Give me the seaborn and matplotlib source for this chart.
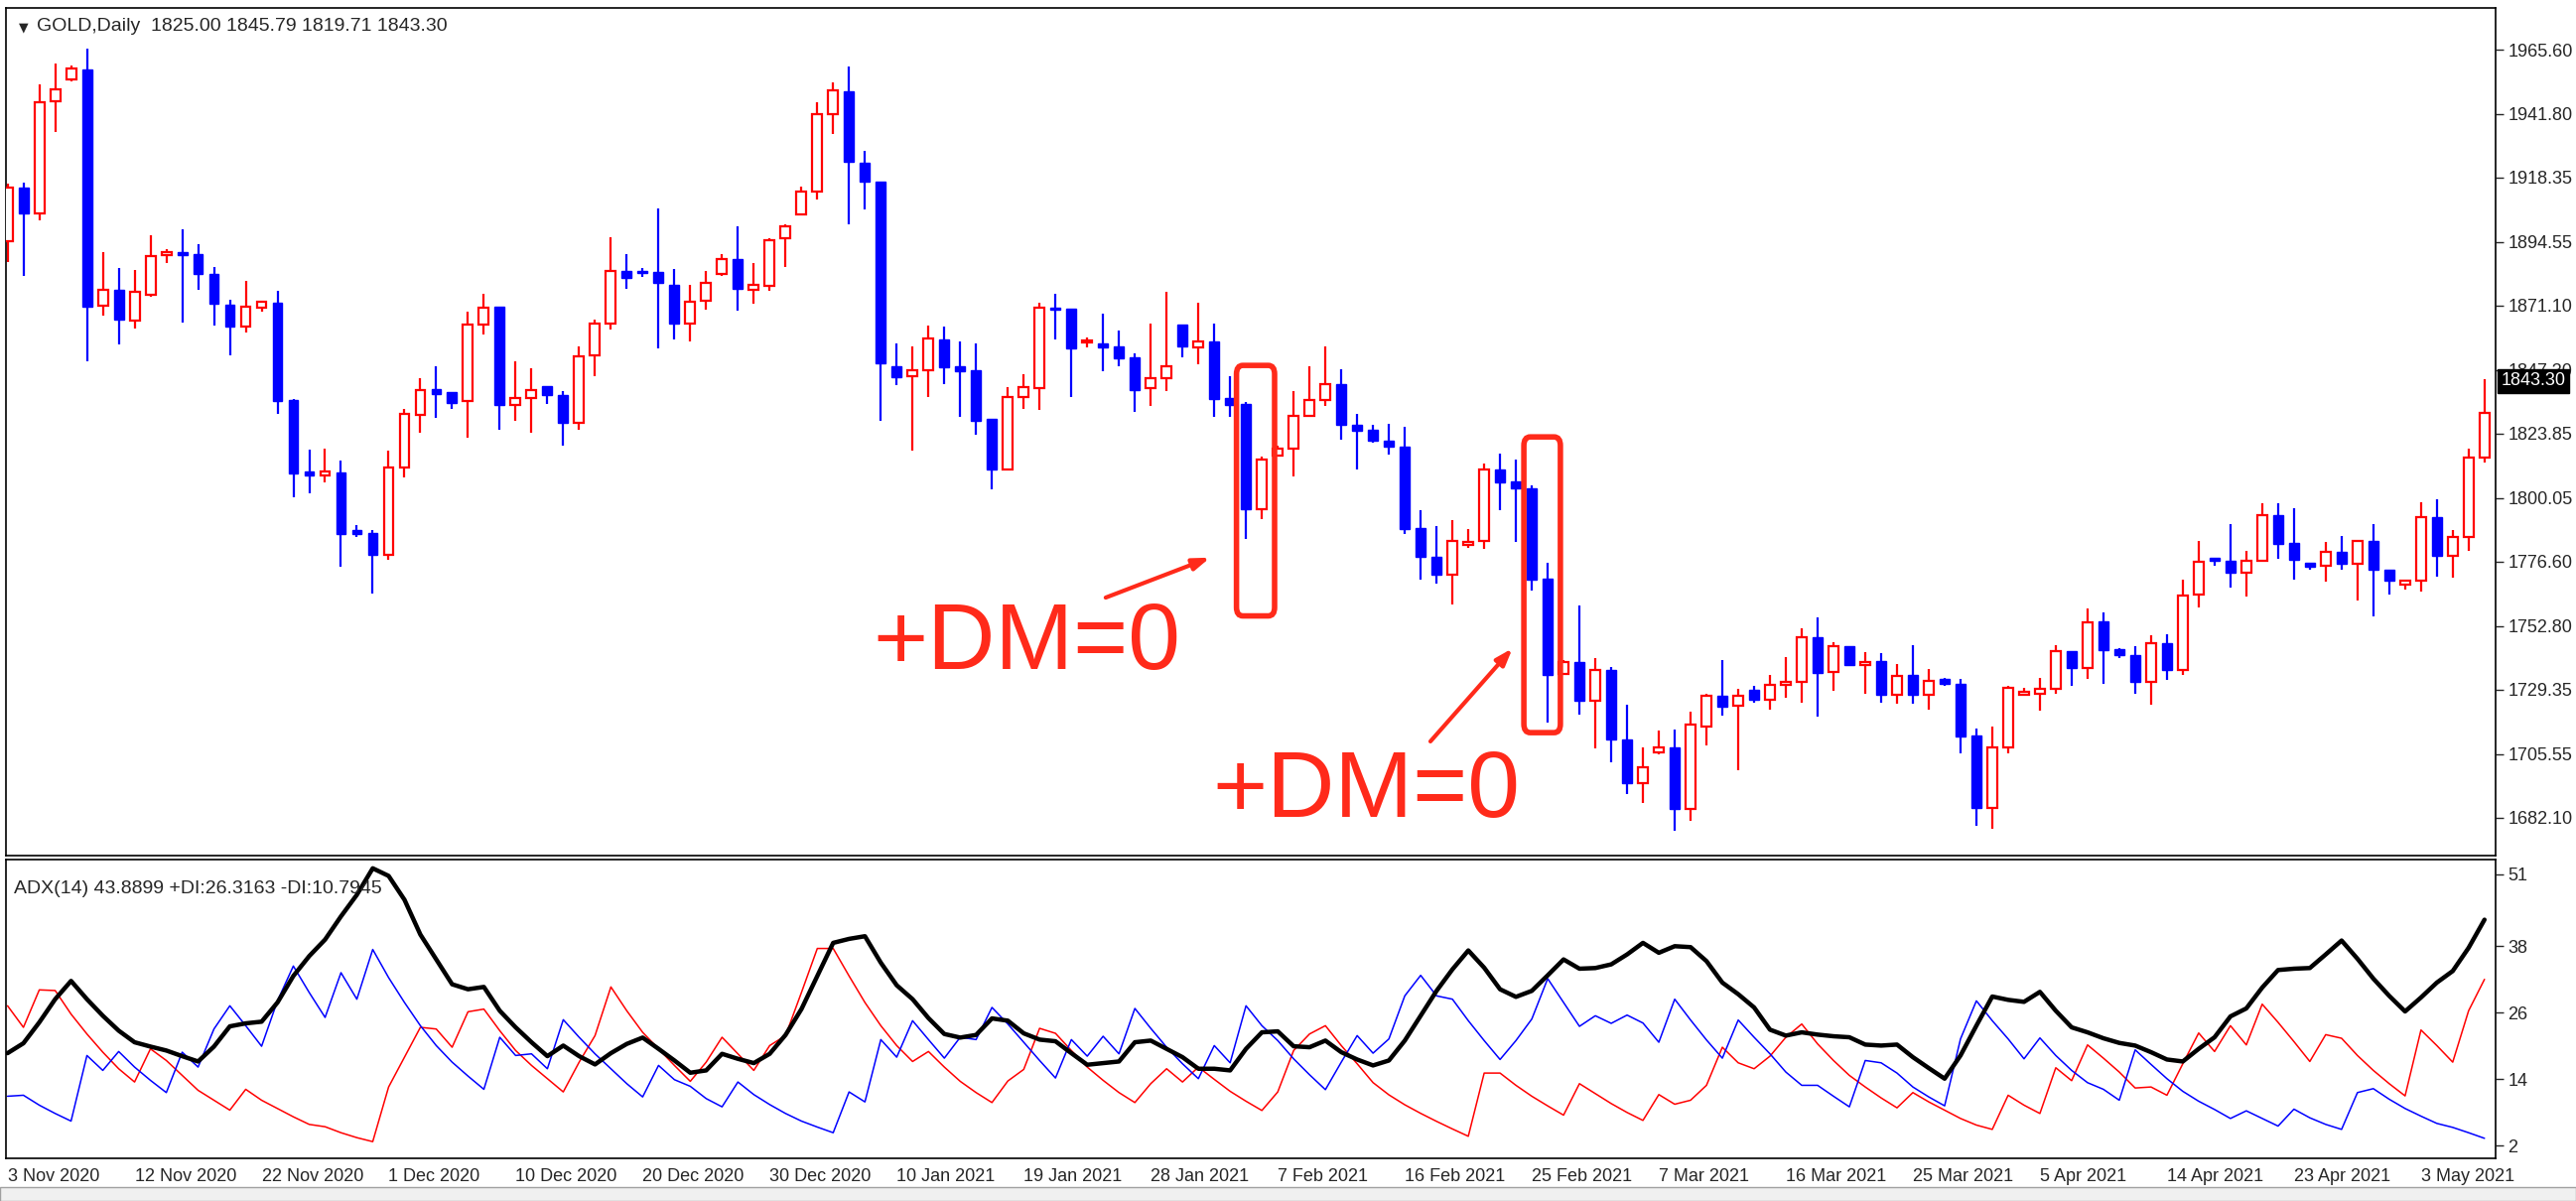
import matplotlib
matplotlib.use("Agg")
import matplotlib.pyplot as plt
from matplotlib.patches import FancyBboxPatch
import seaborn as sns
import numpy as np
import pandas as pd

sns.set_style("white")
plt.rcParams['font.family'] = ['Liberation Sans', 'DejaVu Sans']

opens = [1895.0,1914.8,1905.1,1946.4,1954.5,1958.3,1871.2,1876.9,1865.4,1875.2,1889.8,1891.0,1890.0,1882.7,1871.4,1863.5,1870.4,1872.2,1836.1,1809.7,
 1808.3,1809.3,1788.1,1787.1,1779.1,1811.3,1830.9,1840.2,1839.1,1835.7,1863.9,1870.6,1834.5,1837.1,1841.2,1838.1,1827.7,1852.7,1864.3,1883.9,
 1883.7,1883.5,1878.9,1864.4,1872.8,1882.9,1888.3,1876.9,1878.5,1895.8,1904.7,1913.1,1941.8,1950.2,1924.0,1916.8,1848.8,1845.2,1847.2,1858.7,
 1848.6,1847.4,1829.3,1810.5,1837.5,1840.8,1870.2,1870.0,1857.5,1857.3,1855.9,1851.9,1840.6,1844.2,1864.1,1855.7,1857.7,1836.9,1834.7,1796.0,
 1815.8,1818.2,1830.5,1836.3,1842.2,1827.1,1825.2,1821.2,1819.0,1789.0,1778.3,1771.6,1782.7,1784.1,1810.7,1806.1,1803.5,1770.4,1735.1,1739.3,
 1725.1,1736.5,1710.7,1694.8,1706.1,1707.9,1685.1,1715.8,1726.9,1723.2,1729.3,1725.6,1731.1,1732.1,1748.8,1735.7,1745.4,1738.3,1740.0,1727.5,
 1734.7,1727.5,1733.3,1731.5,1712.4,1685.5,1708.1,1727.5,1727.7,1729.5,1743.4,1737.1,1754.5,1744.2,1742.0,1732.1,1746.6,1736.7,1764.4,1778.1,
 1776.7,1772.4,1776.7,1793.6,1783.5,1776.1,1775.0,1780.1,1775.6,1784.1,1773.4,1768.2,1769.4,1792.8,1778.7,1785.5,1815.0]
highs = [1916.2,1916.6,1952.9,1960.5,1959.9,1966.0,1890.8,1884.9,1884.1,1897.0,1891.8,1899.4,1893.6,1885.3,1873.2,1880.1,1872.4,1876.5,1836.5,1818.0,
 1818.4,1814.0,1790.1,1788.1,1817.4,1832.9,1844.2,1848.6,1839.1,1868.8,1875.4,1870.6,1850.6,1847.8,1841.2,1839.4,1855.9,1866.0,1896.4,1890.0,
 1884.9,1907.1,1884.5,1878.7,1883.7,1890.0,1900.4,1886.7,1895.8,1901.0,1915.2,1946.0,1953.5,1959.3,1928.1,1916.8,1857.3,1855.9,1863.7,1863.3,
 1857.7,1857.3,1829.3,1841.0,1845.8,1872.2,1875.4,1870.0,1859.3,1868.2,1861.9,1853.3,1864.5,1876.0,1864.1,1872.2,1864.5,1845.2,1835.5,1815.4,
 1819.4,1839.4,1848.8,1855.9,1847.6,1831.1,1826.9,1827.5,1826.5,1795.4,1789.8,1791.8,1788.6,1812.7,1816.4,1814.4,1804.7,1776.3,1740.2,1760.3,
 1741.0,1737.7,1723.6,1707.9,1714.2,1714.4,1721.0,1727.7,1740.2,1729.7,1730.7,1734.7,1741.4,1751.9,1755.9,1746.8,1745.4,1743.3,1742.8,1738.9,
 1745.6,1737.0,1733.7,1733.1,1714.8,1715.6,1730.7,1729.9,1733.7,1745.6,1743.4,1759.3,1757.9,1744.6,1745.4,1749.4,1749.6,1770.0,1784.1,1778.1,
 1790.5,1780.7,1798.1,1798.1,1796.2,1776.1,1783.9,1786.1,1784.1,1790.5,1773.4,1769.6,1798.3,1799.6,1788.1,1818.1,1843.8]
lows = [1887.3,1881.9,1902.5,1935.3,1953.9,1850.6,1867.4,1856.7,1862.7,1874.2,1886.9,1864.8,1876.9,1863.7,1852.7,1861.1,1868.8,1831.1,1800.2,1801.7,
 1805.9,1774.6,1785.5,1764.8,1777.1,1807.7,1824.0,1829.5,1833.1,1822.4,1860.3,1825.4,1828.5,1824.0,1834.9,1819.4,1825.2,1845.0,1862.1,1877.3,
 1881.5,1855.3,1858.7,1857.7,1869.6,1881.9,1869.2,1871.8,1876.4,1885.3,1904.7,1910.1,1934.3,1901.0,1906.7,1828.5,1841.6,1817.4,1837.5,1842.2,
 1829.9,1823.4,1803.3,1810.5,1832.9,1832.5,1858.5,1837.5,1855.5,1847.0,1848.6,1831.7,1834.1,1839.4,1852.1,1849.4,1829.9,1829.9,1785.1,1792.2,
 1815.4,1807.9,1830.1,1833.9,1821.4,1810.5,1820.4,1816.0,1786.9,1769.8,1768.4,1760.9,1781.5,1781.1,1795.6,1783.7,1766.0,1717.2,1735.1,1720.2,
 1707.5,1702.3,1690.9,1687.4,1705.5,1677.1,1680.7,1708.5,1719.6,1699.4,1724.6,1722.0,1726.1,1724.6,1719.4,1728.7,1738.3,1727.7,1724.6,1724.0,
 1724.0,1722.0,1730.7,1705.9,1679.1,1677.9,1705.9,1727.1,1721.6,1727.7,1730.7,1733.1,1731.3,1740.8,1727.7,1723.6,1732.9,1734.7,1759.5,1775.0,
 1767.0,1763.5,1776.7,1777.5,1770.0,1773.6,1769.0,1773.6,1762.3,1756.5,1764.4,1766.4,1765.5,1771.0,1770.6,1780.7,1813.2]
closes = [1914.8,1905.1,1946.2,1951.0,1958.5,1870.8,1876.9,1865.8,1876.2,1889.5,1890.8,1889.8,1882.9,1871.6,1863.3,1870.8,1872.4,1835.7,1809.1,1808.3,
 1809.7,1786.9,1786.9,1779.1,1811.3,1831.1,1840.0,1838.5,1835.3,1863.9,1870.4,1834.5,1836.9,1839.8,1838.1,1827.7,1852.5,1864.5,1883.7,1881.3,
 1883.3,1879.3,1864.4,1872.6,1879.3,1888.3,1877.1,1878.9,1895.4,1900.4,1913.3,1941.8,1950.4,1924.2,1916.8,1849.8,1844.8,1847.2,1858.9,1848.4,
 1847.0,1828.5,1810.5,1837.5,1841.0,1870.2,1869.6,1855.3,1857.9,1855.5,1851.7,1840.0,1844.2,1848.8,1856.1,1857.7,1836.7,1834.5,1796.0,1814.2,
 1818.4,1830.5,1836.3,1842.2,1826.9,1824.8,1821.2,1819.0,1788.4,1778.3,1771.6,1784.1,1783.7,1810.5,1805.9,1803.5,1769.8,1734.7,1739.3,1725.3,
 1736.7,1710.7,1694.6,1700.8,1708.1,1685.1,1716.2,1727.1,1723.0,1727.1,1725.6,1731.1,1732.1,1748.8,1735.3,1745.2,1738.3,1739.3,1727.5,1734.5,
 1727.5,1732.5,1731.3,1712.1,1685.5,1707.9,1730.1,1728.3,1729.5,1743.4,1737.1,1754.3,1743.8,1742.0,1732.1,1746.6,1736.7,1764.2,1776.5,1776.7,
 1772.4,1776.7,1793.8,1783.1,1777.1,1774.8,1780.1,1775.6,1784.1,1773.4,1769.4,1769.6,1792.8,1778.7,1785.5,1815.0,1831.3]

adx = [18.67,20.46,24.23,28.41,31.70,28.41,25.42,22.73,20.64,19.86,19.15,18.13,17.17,19.86,23.51,24.05,24.35,27.81,32.60,36.18,
 39.17,43.35,47.24,52.02,50.65,46.34,40.07,35.58,31.10,30.20,30.62,26.32,23.33,20.64,18.13,20.04,18.13,16.64,18.67,20.34,
 21.48,19.45,17.35,15.14,15.56,18.55,17.65,16.88,18.55,21.96,26.62,32.60,38.57,39.29,39.77,34.99,30.92,28.41,25.00,22.13,
 21.48,21.96,24.94,24.53,22.25,21.12,20.82,18.67,16.58,16.88,17.17,20.64,20.94,19.45,17.95,15.86,15.86,15.56,19.45,22.43,
 22.61,19.92,19.74,20.94,18.85,17.53,16.46,17.35,20.94,25.42,29.91,33.79,37.20,34.09,30.20,28.83,29.91,32.71,35.58,33.91,
 34.03,34.69,36.48,38.57,36.78,37.97,37.80,35.28,31.40,29.31,26.92,22.91,21.84,22.43,22.02,21.72,21.54,20.22,20.04,20.22,
 17.95,15.98,14.07,18.25,23.63,28.89,28.29,27.93,29.73,26.32,23.33,22.43,21.36,20.52,20.04,18.85,17.53,17.17,19.45,21.54,
 25.30,26.74,30.50,33.67,33.91,34.03,36.48,38.99,35.70,32.12,29.01,26.20,28.71,31.40,33.49,37.67,42.75]
plus_di = [27.22,23.33,30.09,29.97,25.72,22.13,18.85,15.86,13.47,19.45,17.35,14.66,11.97,10.18,8.39,12.15,10.18,8.69,7.19,5.82,
 5.40,4.32,3.43,2.71,12.57,17.95,23.33,23.03,19.74,26.14,26.62,22.73,19.15,16.46,14.07,11.68,17.05,21.84,30.62,26.32,
 22.43,19.45,16.46,13.59,17.05,21.54,18.55,15.56,20.04,21.84,29.61,37.56,37.56,32.60,27.81,23.63,20.04,17.17,18.97,16.16,
 13.59,11.56,9.76,13.65,15.74,23.15,22.25,19.15,16.16,13.77,11.56,9.76,13.17,15.86,13.47,16.16,13.95,11.79,10.00,8.33,
 11.68,19.15,22.13,23.63,20.04,16.76,13.36,11.15,9.36,7.81,6.37,5.00,3.68,15.08,15.08,12.87,10.90,9.16,7.49,13.17,
 11.38,9.58,7.97,6.54,11.20,9.46,10.18,12.87,19.74,16.93,15.86,18.13,21.54,23.93,20.34,17.35,14.66,12.57,10.60,8.81,
 11.56,9.88,8.39,6.89,5.70,4.92,11.08,9.29,7.79,16.04,13.71,20.16,17.77,15.26,12.39,12.57,11.08,16.76,22.31,18.97,
 23.63,20.16,27.51,24.23,20.76,17.17,22.01,21.36,18.25,15.56,13.17,10.96,22.85,20.04,17.05,26.32,31.99]
minus_di = [10.90,11.08,9.29,7.79,6.42,18.25,15.56,18.97,16.16,13.77,11.56,18.85,16.16,23.03,27.22,23.63,19.92,28.11,34.39,29.61,
 25.12,33.19,28.41,37.38,32.30,27.81,23.63,20.04,17.05,14.54,12.15,21.54,18.25,18.55,15.86,24.71,21.54,18.55,15.86,13.17,
 10.78,16.46,13.89,12.69,10.48,8.99,13.47,11.20,9.40,7.79,6.42,5.34,4.32,11.68,9.88,21.12,17.95,24.53,21.12,17.77,
 21.54,21.12,26.92,23.93,20.64,17.35,14.19,21.12,18.13,21.72,18.55,26.74,23.15,19.74,16.76,14.07,20.04,16.93,27.22,23.63,
 20.94,17.65,14.78,12.09,17.05,21.84,18.67,21.24,29.01,32.71,29.01,28.41,24.53,20.94,17.53,20.94,24.83,32.12,27.81,23.51,
 25.42,24.05,25.54,24.11,20.64,28.41,24.65,21.06,17.77,24.65,21.54,18.55,15.26,12.87,12.87,10.90,8.99,17.35,16.93,15.08,
 12.57,10.78,9.17,21.24,28.11,24.53,21.24,17.65,21.42,18.25,15.56,13.35,12.15,10.18,19.27,16.64,14.07,11.79,10.00,8.51,
 6.89,8.27,6.89,5.52,8.57,7.01,5.82,4.92,11.56,12.27,10.36,8.69,7.31,6.00,5.28,4.32,3.31]

date_labels = ["3 Nov 2020","12 Nov 2020","22 Nov 2020","1 Dec 2020","10 Dec 2020","20 Dec 2020","30 Dec 2020",
 "10 Jan 2021","19 Jan 2021","28 Jan 2021","7 Feb 2021","16 Feb 2021","25 Feb 2021","7 Mar 2021","16 Mar 2021",
 "25 Mar 2021","5 Apr 2021","14 Apr 2021","23 Apr 2021","3 May 2021"]
date_label_idx = list(range(0, 160, 8))[:len(date_labels)]
price_ticks = [1965.60,1941.80,1918.35,1894.55,1871.10,1847.30,1823.85,1800.05,1776.60,1752.80,1729.35,1705.55,1682.10]
adx_ticks = [51,38,26,14,2]
last_price = 1843.30
title_main = "GOLD,Daily  1825.00 1845.79 1819.71 1843.30"
title_adx = "ADX(14) 43.8899 +DI:26.3163 -DI:10.7945"

n = len(opens)
idx = np.arange(n)
df = pd.DataFrame({"i": idx, "o": opens, "h": highs, "l": lows, "c": closes})
ind = pd.DataFrame({"i": idx, "ADX": adx, "+DI": plus_di, "-DI": minus_di})

W, H = 2595, 1210
fig = plt.figure(figsize=(W/100, H/100), dpi=100)
fig.patch.set_facecolor("white")
ax = fig.add_axes([6/W, 1-862/H, (2514-6)/W, (862-8)/H])
ax2 = fig.add_axes([6/W, 1-1167/H, (2514-6)/W, (1167-866)/H])

RED, BLUE = "#ff0000", "#0000ff"
bw = 0.62
for r in df.itertuples():
    up = r.c >= r.o
    col = RED if up else BLUE
    lo, hi = min(r.o, r.c), max(r.o, r.c)
    ax.vlines(r.i, r.l, lo, color=col, lw=1.6)
    ax.vlines(r.i, hi, r.h, color=col, lw=1.6)
    hgt = max(hi - lo, 0.6)
    if up:
        ax.bar(r.i, hgt, bottom=lo, width=bw, facecolor="white", edgecolor=col, linewidth=1.6, zorder=3)
    else:
        ax.bar(r.i, hgt, bottom=lo, width=bw, facecolor=col, edgecolor=col, linewidth=1.0, zorder=3)

xl = (-0.1, 156.7)
ax.set_xlim(*xl)
ax.set_ylim(1668, 1981)
ax.yaxis.tick_right()
ax.set_yticks(price_ticks)
ax.set_yticklabels([f"{v:.2f}" for v in price_ticks], fontsize=13)
ax.tick_params(axis="y", length=6, width=1, direction="out", pad=3)
ax.set_xticks([])
for s in ax.spines.values():
    s.set_color("black"); s.set_linewidth(1.2)
ax.text(0.005, 0.984, "\u25bc", transform=ax.transAxes, fontsize=9, va="top", ha="left", family="DejaVu Sans")
ax.text(0.0125, 0.988, title_main, transform=ax.transAxes, fontsize=14, va="top", ha="left")
ax.annotate(f"{last_price:.2f}", xy=(1.0, last_price), xycoords=("axes fraction", "data"),
            xytext=(4, 0), textcoords="offset points", fontsize=13, color="white", va="center", ha="left",
            bbox=dict(boxstyle="square,pad=0.2", fc="black", ec="black"), annotation_clip=False, zorder=10)

# annotations
for (x0, x1, y0, y1) in [(77.4, 79.8, 1756.5, 1849.0), (95.5, 97.8, 1713.4, 1822.6)]:
    ax.add_patch(FancyBboxPatch((x0, y0), x1-x0, y1-y0, boxstyle="round,pad=0,rounding_size=0.4",
                                fill=False, ec="#ff2a1a", lw=4, zorder=5, mutation_aspect=8))
ax.annotate("", xy=(75.9, 1778.4), xytext=(69.0, 1762.9),
            arrowprops=dict(arrowstyle="-|>,head_length=1.0,head_width=0.35", color="#ff2a1a", lw=3))
ax.annotate("", xy=(94.9, 1745.3), xytext=(89.5, 1709.4),
            arrowprops=dict(arrowstyle="-|>,head_length=1.0,head_width=0.35", color="#ff2a1a", lw=3))
ax.text(64.2, 1746, "+DM=0", fontsize=68, color="#ff2a1a", ha="center", va="center")
ax.text(85.6, 1691.2, "+DM=0", fontsize=68, color="#ff2a1a", ha="center", va="center")

# indicator
sns.lineplot(data=ind, x="i", y="+DI", ax=ax2, color=RED, lw=1.1)
sns.lineplot(data=ind, x="i", y="-DI", ax=ax2, color=BLUE, lw=1.1)
sns.lineplot(data=ind, x="i", y="ADX", ax=ax2, color="black", lw=3.2)
ax2.set_xlim(*xl)
ax2.set_ylim(-0.3, 53.6)
ax2.set_xlabel(""); ax2.set_ylabel("")
ax2.yaxis.tick_right()
ax2.set_yticks(adx_ticks)
ax2.set_yticklabels([str(v) for v in adx_ticks], fontsize=13)
ax2.set_xticks(date_label_idx)
ax2.set_xticklabels(date_labels, fontsize=13, ha="left")
ax2.tick_params(axis="x", length=5, width=1, direction="out", pad=2)
ax2.tick_params(axis="y", length=6, width=1, direction="out", pad=3)
for s in ax2.spines.values():
    s.set_color("black"); s.set_linewidth(1.2)
ax2.text(0.003, 0.93, title_adx, transform=ax2.transAxes, fontsize=14, va="top", ha="left")

fig.patches.append(plt.Rectangle((0, 0), 1, 14/H, transform=fig.transFigure, fc="#f0f0f0", ec="#a0a0a0", lw=1))
fig.savefig("out.png", dpi=100)
